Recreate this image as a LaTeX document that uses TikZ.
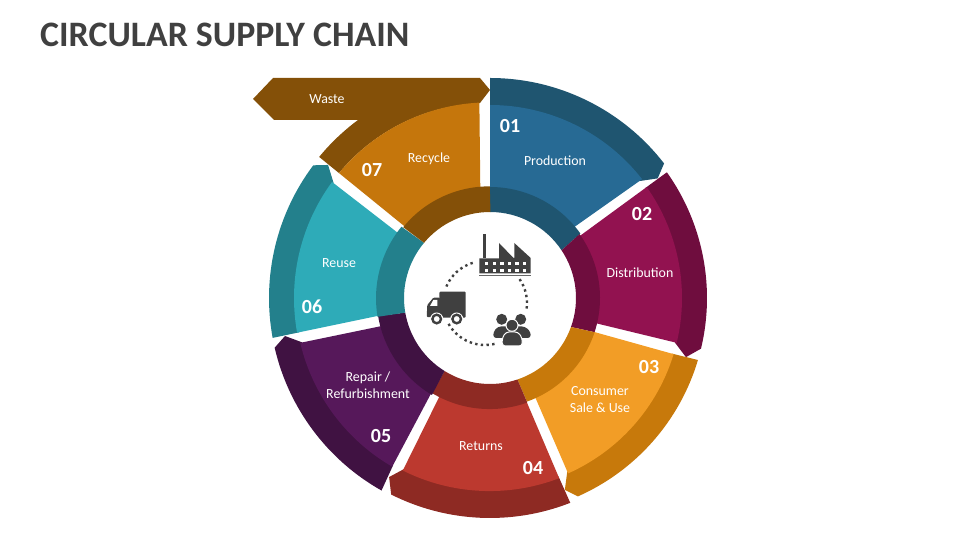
\documentclass[tikz,border=0pt]{standalone}
\usepackage{fontspec}
\setmainfont{Carlito}
\definecolor{iconGrey}{HTML}{404040}
\definecolor{prodMain}{HTML}{276A94}
\definecolor{prodDark}{HTML}{1F5570}
\definecolor{distMain}{HTML}{921250}
\definecolor{distDark}{HTML}{6F0D3E}
\definecolor{consMain}{HTML}{F29D26}
\definecolor{consDark}{HTML}{C7790B}
\definecolor{retMain}{HTML}{BC392F}
\definecolor{retDark}{HTML}{8E2A23}
\definecolor{repMain}{HTML}{56185A}
\definecolor{repDark}{HTML}{401242}
\definecolor{reuMain}{HTML}{2EABB8}
\definecolor{reuDark}{HTML}{23808C}
\definecolor{recMain}{HTML}{C5760C}
\definecolor{recDark}{HTML}{845008}
\tikzset{%
	seglabel/.style = {text=white, font=\fontsize{13.9}{17}\selectfont, align=center, inner sep=0pt},
	numlabel/.style = {text=white, font=\fontsize{20}{22}\selectfont\bfseries, inner sep=0pt},
	dotline/.style  = {iconGrey, line width=2.4pt, dash pattern=on 2.4pt off 3.3pt}
}
\begin{document}
\begin{tikzpicture}[x=1pt,y=1pt]
	\useasboundingbox (0,0) rectangle (960,540);
	\node[text=iconGrey, font=\fontsize{35.8}{38}\selectfont\bfseries, anchor=west, inner sep=0pt] (title) at (40,505.5) {CIRCULAR SUPPLY CHAIN};

	\begin{scope}[shift={(490,242)}]
		% outer bands
		\fill[prodDark] (90:220) arc[start angle=90,end angle=37.7,radius=220] -- (35.5:206) -- (38:190) arc[start angle=38,end angle=90,radius=190] -- cycle;
		\fill[distDark] (35.4:217) arc[start angle=35.4,end angle=-13.5,radius=217] -- (-16.8:204.7) -- (-13.5:190) arc[start angle=-13.5,end angle=35.3,radius=190] -- cycle;
		\fill[consDark] (-16.6:217) arc[start angle=-16.6,end angle=-66.1,radius=217] -- (-68.7:206) -- (-66:190) arc[start angle=-66,end angle=-17,radius=190] -- cycle;
		\fill[retDark] (-68.6:220) arc[start angle=-68.6,end angle=-116.7,radius=220] -- (-119.4:205.5) -- (-116.6:191) arc[start angle=-116.6,end angle=-69,radius=191] -- cycle;
		\fill[repDark] (-167:221) arc[start angle=-167,end angle=-119.4,radius=221] -- (-120.1:193) arc[start angle=-120.1,end angle=-166.7,radius=193] -- (-169.5:208.5) -- cycle;
		\fill[reuDark] (190.4:221) arc[start angle=190.4,end angle=143.1,radius=221] -- (140.6:209.6) -- (143.7:194) arc[start angle=143.7,end angle=190.2,radius=194] -- cycle;
		\fill[recDark] (-132,178) arc[start angle=126.6,end angle=140.5,radius=221.6] -- (140.4:196) arc[start angle=140.4,end angle=92.9,radius=193] -- (-10,195) -- (0,208) -- (-10,220) -- (-217,220) -- (-237,199) -- (-216,178) -- cycle;

		% main petals
		\fill[prodMain] (90:193) arc[start angle=90,end angle=38,radius=193] -- (40.2:108) arc[start angle=40.2,end angle=90,radius=108] -- cycle;
		\fill[distMain] (35.3:192) -- (34.6:107) arc[start angle=34.6,end angle=-13.4,radius=107] -- (-13.5:192) arc[start angle=-13.5,end angle=35.3,radius=192] -- cycle;
		\fill[consMain] (-17:192) arc[start angle=-17,end angle=-66,radius=192] -- (-65.5:108) arc[start angle=-65.5,end angle=-18.1,radius=108] -- cycle;
		\fill[retMain] (-69:193) arc[start angle=-69,end angle=-116.6,radius=194] -- (-117.2:109) arc[start angle=-117.2,end angle=-70.6,radius=109] -- cycle;
		\fill[repMain] (-166.7:195) arc[start angle=-166.7,end angle=-120.1,radius=195] -- (-121.7:112) arc[start angle=-121.7,end angle=-165.5,radius=112] -- cycle;
		\fill[reuMain] (190.2:196) arc[start angle=190.2,end angle=143.7,radius=196] -- (144.8:111) arc[start angle=144.8,end angle=189,radius=111] -- cycle;
		\fill[recMain] (140.4:196) arc[start angle=140.4,end angle=92.9,radius=195] -- (95.1:109) arc[start angle=95.1,end angle=140,radius=109] -- cycle;

		% inner bands
		\fill[prodDark] (90:111) arc[start angle=90,end angle=35.5,radius=111] -- (33.7:86) arc[start angle=33.7,end angle=90,radius=86] -- cycle;
		\fill[distDark] (35.5:110) arc[start angle=35.5,end angle=-18.1,radius=110] -- (-19.7:86) arc[start angle=-19.7,end angle=33.7,radius=86] -- cycle;
		\fill[consDark] (-18.1:110) arc[start angle=-18.1,end angle=-70.4,radius=110] -- (-71.4:86) arc[start angle=-71.4,end angle=-19.7,radius=86] -- cycle;
		\fill[retDark] (-70.4:111) arc[start angle=-70.4,end angle=-120.9,radius=112] -- (-121.9:86) arc[start angle=-121.9,end angle=-71.4,radius=86] -- cycle;
		\fill[repDark] (-120.9:113) arc[start angle=-120.9,end angle=-170.5,radius=114] -- (-170.2:86) arc[start angle=-170.2,end angle=-121.9,radius=86] -- cycle;
		\fill[reuDark] (189.5:114) arc[start angle=189.5,end angle=140.8,radius=113] -- (140.1:86) arc[start angle=140.1,end angle=189.8,radius=86] -- cycle;
		\fill[recDark] (140.8:112) arc[start angle=140.8,end angle=89.7,radius=111] -- (89.7:86) arc[start angle=89.7,end angle=140.1,radius=86] -- cycle;
	\end{scope}

	% dotted ring
	\begin{scope}[shift={(485,237)}]
		\draw[dotline] (107:42) arc[start angle=107,end angle=157,radius=42];
		\draw[dotline] (34.6:42) arc[start angle=34.6,end angle=-8.7,radius=42];
		\draw[dotline] (209.8:42) arc[start angle=209.8,end angle=285,radius=42];
	\end{scope}

	% factory
	\fill[iconGrey] (482.7,306) rectangle (485.7,282);
	\fill[iconGrey] (479.3,281.7) -- (499,281.7) -- (499,297) -- (513.5,282) -- (514.3,282) -- (514.3,297) -- (530.7,282) -- (530.7,266.5) -- (479.3,266.5) -- cycle;
	\fill[iconGrey!80] (479.3,264.5) rectangle (530.7,263.5);
	\foreach \col in {0,...,5}
		\foreach \row in {274.5,267.7}
			\fill[white] (485+7.6*\col,\row) rectangle ++(3.3,3.3);

	% truck
	\fill[iconGrey, rounded corners=1pt] (439.3,248.3) rectangle (465.7,222.3);
	\fill[iconGrey, rounded corners=1pt] (426.7,223) -- (427.3,235) -- (433.3,242.3) -- (440,242.3) -- (440,222.3) -- cycle;
	\fill[white] (430,234) -- (433.3,240) -- (437.3,240) -- (437.3,234) -- cycle;
	\foreach \wx in {436.7,456.7} {
		\fill[white] (\wx,221) circle[radius=6.5];
		\draw[iconGrey, line width=2.4pt] (\wx,221) circle[radius=4.3];
	}

	% people
	\foreach \hx in {501.7,520.7} {
		\fill[iconGrey] (\hx,220.7) circle[radius=5.5];
	}
	\fill[iconGrey, rounded corners=3pt] (493.3,202) -- (493.3,208) -- (498,213.5) -- (525,213.5) -- (530.7,208) -- (530.7,202) -- cycle;
	\fill[iconGrey, draw=white, line width=1pt] (512,214.7) circle[radius=6];
	\fill[iconGrey, draw=white, line width=1pt, rounded corners=3pt] (502.2,194) -- (502.2,202) -- (506,208) -- (518,208) -- (522.2,202) -- (522.2,194) -- cycle;

	% labels
	\node[seglabel] (waste) at (327,441) {Waste};
	\node[seglabel] (recycle) at (429,381) {Recycle};
	\node[numlabel] (n07) at (372,370) {07};
	\node[numlabel] (n01) at (510,414) {01};
	\node[seglabel] (production) at (555,379) {Production};
	\node[numlabel] (n02) at (642,326) {02};
	\node[seglabel] (distribution) at (640,267) {Distribution};
	\node[numlabel] (n03) at (649,173) {03};
	\node[seglabel] (consumer) at (600,140.5) {Consumer\\Sale \& Use};
	\node[numlabel] (n04) at (533,72) {04};
	\node[seglabel] (returns) at (481,94) {Returns};
	\node[numlabel] (n05) at (381,104) {05};
	\node[seglabel] (repair) at (368,154.5) {Repair /\\Refurbishment};
	\node[numlabel] (n06) at (312,233) {06};
	\node[seglabel] (reuse) at (339,277) {Reuse};
\end{tikzpicture}
\end{document}
